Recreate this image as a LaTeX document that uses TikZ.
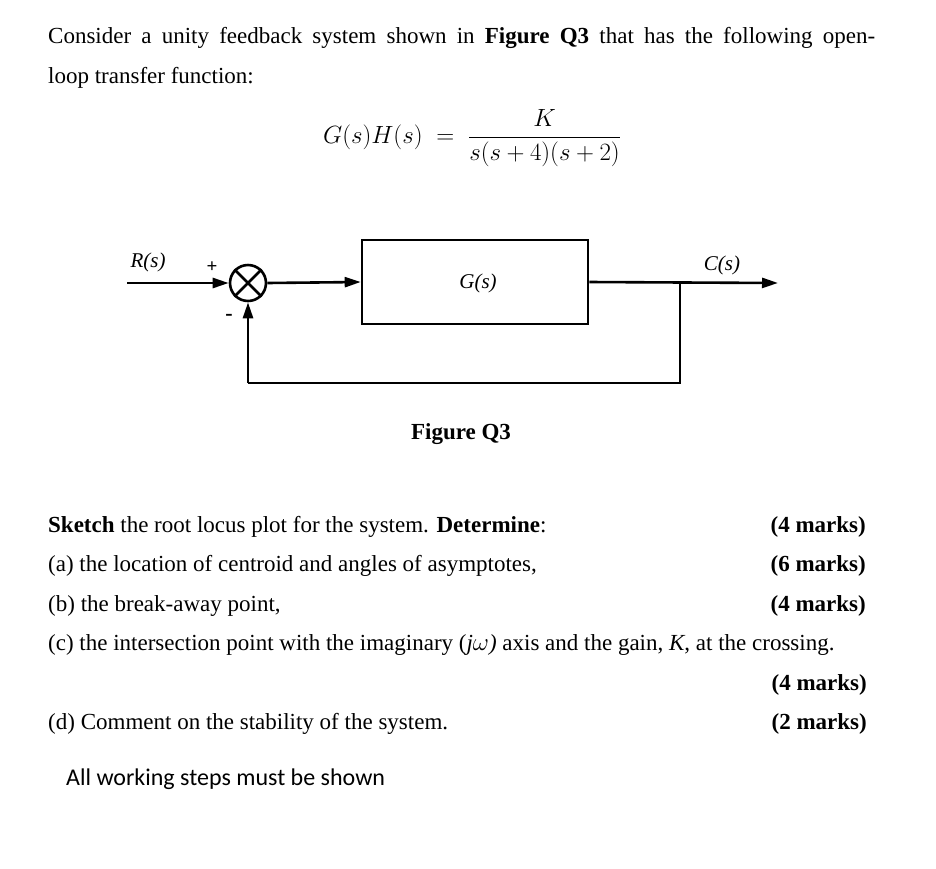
\documentclass[tikz,border=0pt]{standalone}
\usepackage{fontspec}
\setmainfont{Liberation Serif}
\newfontfamily\calib{Carlito}
\usepackage{amsmath}
\usetikzlibrary{arrows.meta}
\begin{document}
\begin{tikzpicture}[x=1pt,y=-1pt,
  txt/.style={anchor=west,inner sep=0pt,font=\fontsize{23}{27}\selectfont},
  mk/.style={anchor=east,inner sep=0pt,font=\fontsize{23}{27}\selectfont\bfseries},
  lbl/.style={inner sep=0pt,font=\fontsize{21}{24}\selectfont\itshape},
  ln/.style={line width=2.6pt},
  arr/.style={ln,-{Triangle[length=16pt,width=10pt]}}]
\useasboundingbox (0,0) rectangle (936,868);
\node[txt] (l1) at (48,38) {\hbox to 827pt{Consider a unity feedback system shown in \textbf{Figure Q3} that has the following open-}};
\node[txt] (l2) at (48,78) {loop transfer function:};
\node[inner sep=0pt,font=\fontsize{25}{30}\selectfont] (eq) at (472,138) {$G(s)H(s)\;=\;\dfrac{K}{s(s+4)(s+2)}$};
% block diagram
\node[draw,circle,ln,minimum size=36pt,inner sep=0pt] (sum) at (248,283) {};
\draw[ln] (sum.north west) -- (sum.south east) (sum.north east) -- (sum.south west);
\node[draw,ln,minimum width=226pt,minimum height=84pt,inner sep=0pt] (G) at (475,282) {};
\node[lbl] (Gt) at (478,283) {G(s)};
\coordinate (in) at (127,283);
\coordinate (out) at (778,283);
\coordinate (br) at (680,283);
\coordinate (b1) at (680,383);
\coordinate (b2) at (248,383);
\draw[arr] (in) -- (sum.west);
\draw[arr] (sum.east) -- (G.west);
\draw[arr] (G.east) -- (out);
\draw[ln] (br) -- (b1) -- (b2);
\draw[arr] (b2) -- (sum.south);
\node[lbl] (R) at (148,262) {R(s)};
\node[lbl] (C) at (722,265) {C(s)};
\node[inner sep=0pt,font=\fontsize{19}{20}\selectfont\bfseries] (p) at (212,267) {+};
\node[inner sep=0pt,font=\fontsize{22}{20}\selectfont\bfseries] (m) at (229,317) {-};
\node[inner sep=0pt,font=\fontsize{23}{27}\selectfont\bfseries] (fq) at (461,434) {Figure Q3};
% questions
\node[txt] (s) at (48,527) {\textbf{Sketch} the root locus plot for the system. \textbf{Determine}:};
\node[mk] (m1) at (866,527) {(4 marks)};
\node[txt] (a) at (48,566) {(a) the location of centroid and angles of asymptotes,};
\node[mk] (m2) at (866,566) {(6 marks)};
\node[txt] (b) at (48,606) {(b) the break-away point,};
\node[mk] (m3) at (866,606) {(4 marks)};
\node[txt] (c) at (48,645) {(c) the intersection point with the imaginary (\textit{j$\omega$)} axis and the gain, \textit{K}, at the crossing.};
\node[mk] (m4) at (867,685) {(4 marks)};
\node[txt] (d) at (48,724) {(d) Comment on the stability of the system.};
\node[mk] (m5) at (867,724) {(2 marks)};
\node[anchor=west,inner sep=0pt,font=\calib\fontsize{24}{28}\selectfont] (w) at (66,779) {All working steps must be shown};
\end{tikzpicture}
\end{document}
